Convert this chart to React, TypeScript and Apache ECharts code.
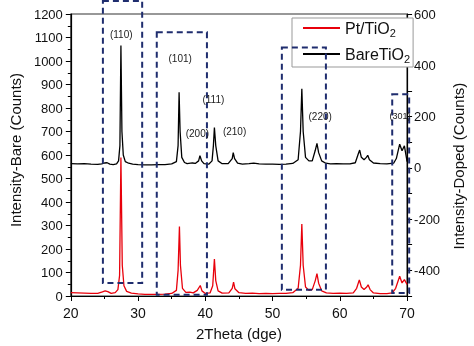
import React, { useEffect, useRef } from 'react';
import * as echarts from 'echarts';

// 2Theta (deg) vs intensity, bare TiO2 (left axis)
const bareData: [number, number][] = [
  [20, 563], [21, 562], [22, 563], [23, 561], [24, 560], [24.6, 562], [25.0, 566], [25.4, 567], [25.8, 561],
  [26.3, 559], [26.8, 562], [27.1, 575], [27.3, 640], [27.45, 1066], [27.6, 700], [27.8, 600], [28.1, 572],
  [28.6, 565], [29.2, 561], [30, 559], [31, 558], [32, 558], [33, 559], [34, 559], [35, 562], [35.7, 572],
  [35.95, 640], [36.1, 867], [36.25, 700], [36.5, 590], [36.9, 568], [37.3, 563], [37.8, 565], [38.1, 566],
  [38.5, 564], [39.0, 575], [39.2, 597], [39.45, 575], [39.8, 563], [40.5, 561], [41.0, 575], [41.2, 640],
  [41.35, 717], [41.55, 640], [41.9, 575], [42.5, 563], [43.4, 563], [44.0, 585], [44.15, 610], [44.35, 585],
  [44.8, 565], [45.5, 561], [46.5, 563], [47.2, 565], [48, 562], [49, 561], [50, 561], [51, 560], [52, 561],
  [53, 564], [53.8, 580], [54.15, 700], [54.35, 882], [54.55, 700], [54.9, 590], [55.4, 575], [55.9, 575],
  [56.35, 620], [56.6, 649], [56.85, 610], [57.3, 575], [57.9, 565], [58.6, 562], [59.5, 563], [60.5, 562],
  [61.5, 562], [62.3, 567], [62.75, 605], [62.95, 621], [63.2, 590], [63.6, 580], [63.95, 590], [64.15, 599],
  [64.4, 580], [65, 566], [66, 563], [67, 562], [68, 565], [68.4, 585], [68.9, 646], [69.25, 618], [69.6, 639],
  [70, 572],
];

// 2Theta (deg) vs intensity, Pt-doped TiO2 (right axis)
const dopedData: [number, number][] = [
  [20, -487], [21, -488], [22, -489], [23, -490], [24, -490], [24.7, -484], [25.1, -480], [25.5, -483],
  [26, -490], [26.6, -487], [27.0, -475], [27.25, -420], [27.45, 40], [27.65, -380], [27.9, -460], [28.3, -482],
  [29, -489], [30, -492], [31, -494], [32, -494], [33, -494], [34, -493], [35, -490], [35.7, -478],
  [35.95, -400], [36.15, -229], [36.3, -380], [36.6, -470], [37.1, -486], [37.7, -485], [38.2, -488],
  [38.8, -478], [39.25, -459], [39.5, -480], [40, -490], [40.7, -488], [41.1, -460], [41.35, -356],
  [41.55, -440], [41.9, -480], [42.5, -489], [43.5, -488], [44.0, -470], [44.2, -446], [44.4, -472],
  [45, -487], [46, -490], [47, -489], [48, -491], [49, -490], [50, -491], [51, -490], [52, -490], [53, -487],
  [53.8, -470], [54.15, -380], [54.35, -219], [54.55, -380], [54.9, -465], [55.4, -478], [55.9, -475],
  [56.35, -440], [56.6, -413], [56.85, -450], [57.3, -480], [58, -488], [59, -490], [60, -489], [61, -490],
  [62, -488], [62.5, -470], [62.9, -437], [63.2, -465], [63.6, -475], [64.0, -465], [64.2, -456], [64.5, -475],
  [65, -488], [66, -491], [67, -491], [67.8, -488], [68.3, -470], [68.9, -423], [69.25, -449], [69.6, -436],
  [70, -455],
];

// Miller index annotations: [label, 2Theta, left-axis counts]
const peakLabels: [string, number, number][] = [
  ['(110)', 27.5, 1111],
  ['(101)', 36.26, 1010],
  ['(111)', 41.2, 836],
  ['(200)', 38.82, 693],
  ['(210)', 44.35, 701],
  ['(220)', 57.08, 764],
  ['(301)', 68.96, 765],
];

// Dashed highlight boxes: [theta1, theta2, countsLow, countsHigh] (left axis)
const boxes: [number, number, number, number][] = [
  [24.77, 30.61, 55, 1255],
  [32.78, 40.24, 5, 1122],
  [51.38, 57.93, 27, 1057],
  [67.79, 70.31, 13, 858],
];

const FONT = 'Liberation Sans, Arial, sans-serif';

export default function App() {
  const ref = useRef<HTMLDivElement>(null);
  useEffect(() => {
    if (!ref.current) return;
    const chart = echarts.init(ref.current, undefined, { renderer: 'svg' });
    chart.setOption({
      animation: false,
      textStyle: { fontFamily: FONT },
      grid: {
        left: 69, right: 52, top: 14, bottom: 48,
        show: true, borderColor: '#333', borderWidth: 1.2, backgroundColor: 'transparent',
      },
      legend: {
        data: ['Pt/TiO2', 'BareTiO2'],
        left: 292, top: 18, orient: 'vertical',
        icon: 'rect', itemWidth: 37, itemHeight: 2, itemGap: 8,
        padding: [2, 3, 3, 11],
        borderColor: '#999', borderWidth: 1, backgroundColor: '#fff',
        formatter: (name: string) => name === 'Pt/TiO2' ? '{a|Pt/TiO}{b|2}' : '{a|BareTiO}{b|2}',
        textStyle: {
          color: '#111',
          rich: {
            a: { fontSize: 16, lineHeight: 20, fontFamily: FONT, color: '#111' },
            b: { fontSize: 11, lineHeight: 11, verticalAlign: 'bottom', fontFamily: FONT, color: '#111' },
          },
        },
      },
      xAxis: {
        type: 'value', min: 20, max: 70, interval: 10,
        axisLine: { show: true, lineStyle: { color: '#000', width: 1.2 } },
        axisTick: { show: true, inside: false, length: 5, lineStyle: { color: '#000' } },
        minorTick: { show: true, splitNumber: 2, length: 3, lineStyle: { color: '#000' } },
        axisLabel: { fontSize: 14, color: '#111', margin: 10, fontFamily: FONT, formatter: (v: number) => String(v) },
        splitLine: { show: false },
        name: '2Theta (dge)', nameLocation: 'middle', nameGap: 30,
        nameTextStyle: { fontSize: 15, color: '#111', fontFamily: FONT },
      },
      yAxis: [
        {
          type: 'value', min: 0, max: 1200, interval: 100, position: 'left',
          axisLine: { show: true, lineStyle: { color: '#000', width: 1.2 } },
          axisTick: { show: true, inside: false, length: 5, lineStyle: { color: '#000' } },
          minorTick: { show: true, splitNumber: 2, length: 3, lineStyle: { color: '#000' } },
          axisLabel: { fontSize: 13, color: '#111', margin: 8, fontFamily: FONT, formatter: (v: number) => String(v) },
          splitLine: { show: false },
          name: 'Intensity-Bare (Counts)', nameLocation: 'middle', nameGap: 42, nameRotate: 90,
          nameTextStyle: { fontSize: 15, color: '#111', fontFamily: FONT, padding: [0, 0, 0, 10] },
        },
        {
          type: 'value', min: -500, max: 600, interval: 100, position: 'right',
          axisLine: { show: true, lineStyle: { color: '#000', width: 1.2 } },
          axisTick: { show: true, inside: false, length: 5, lineStyle: { color: '#000' } },
          axisLabel: {
            fontSize: 13, color: '#111', margin: 7, fontFamily: FONT,
            formatter: (v: number) => (v % 200 === 0 ? String(v) : ''),
          },
          splitLine: { show: false },
          name: 'Intensity-Doped (Counts)', nameLocation: 'middle', nameGap: 35, nameRotate: 90,
          nameTextStyle: { fontSize: 15, color: '#111', fontFamily: FONT, padding: [0, 22, 0, 0] },
        },
      ],
      series: [
        {
          name: 'Pt/TiO2', type: 'line', yAxisIndex: 1, data: dopedData,
          showSymbol: false, symbol: 'none', lineStyle: { color: '#e8000b', width: 1.3 },
          itemStyle: { color: '#e8000b' }, z: 3,
        },
        {
          name: 'BareTiO2', type: 'line', yAxisIndex: 0, data: bareData,
          showSymbol: false, symbol: 'none', lineStyle: { color: '#000', width: 1.3 },
          itemStyle: { color: '#000' }, z: 3,
        },
      ],
    });

    const px = (x: number, y: number) =>
      chart.convertToPixel({ xAxisIndex: 0, yAxisIndex: 0 }, [x, y]) as number[];

    const graphics: any[] = [];
    boxes.forEach(([x1, x2, y1, y2]) => {
      const a = px(x1, y2);
      const b = px(x2, y1);
      graphics.push({
        type: 'rect', z: 10,
        shape: { x: a[0], y: a[1], width: b[0] - a[0], height: b[1] - a[1] },
        style: { fill: 'none', stroke: '#1f2d6e', lineWidth: 2, lineDash: [6, 4] },
      });
    });
    peakLabels.forEach(([t, x, y]) => {
      const p = px(x, y);
      graphics.push({
        type: 'text', z: 11, x: p[0], y: p[1],
        style: {
          text: t, fontSize: t === '(301)' ? 9 : 10, fontFamily: FONT, fill: '#222',
          align: 'center', verticalAlign: 'middle',
        },
      });
    });
    chart.setOption({ graphic: graphics });

    return () => chart.dispose();
  }, []);
  return <div ref={ref} style={{ position: 'fixed', left: 0, top: 0, width: 474, height: 346 }} />;
}
